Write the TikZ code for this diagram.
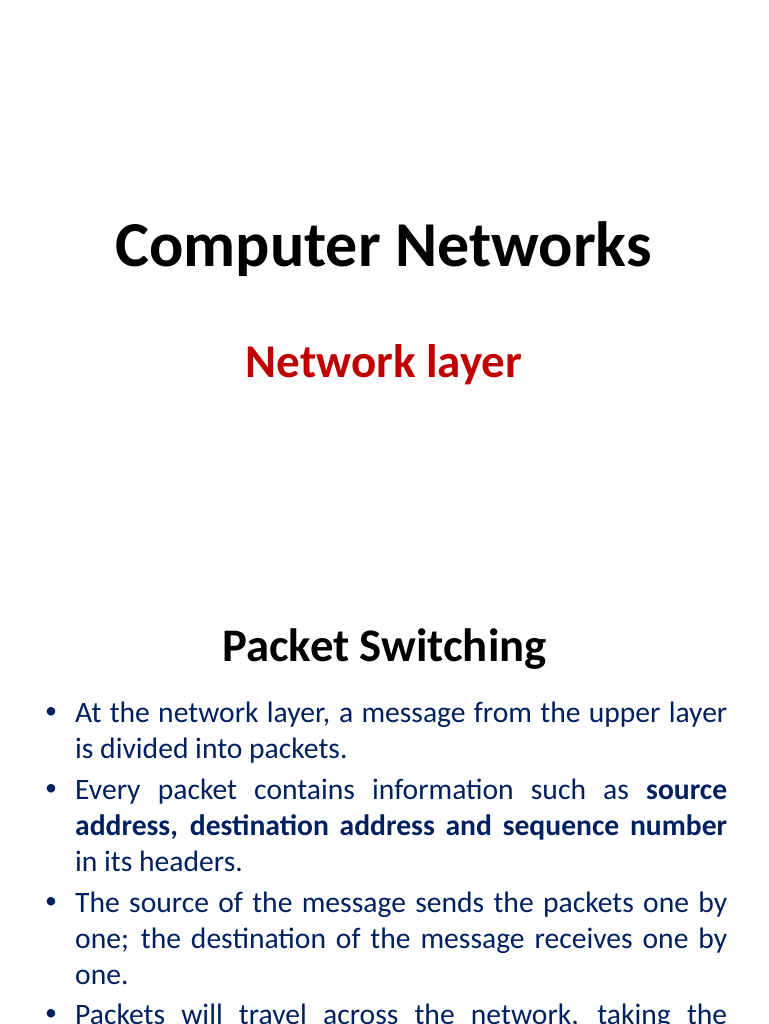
\documentclass[tikz,border=0pt]{standalone}
\usepackage{fontspec}
\setmainfont{Carlito}
\usepackage{tikz}
\definecolor{TitleRed}{RGB}{192,0,0}
\definecolor{BodyBlue}{RGB}{0,32,96}
\tikzset{
  headline/.style={font=\bfseries\fontsize{#1}{#1}\selectfont,color=black,anchor=base},
  bodyline/.style={font=\fontsize{29.6}{36}\selectfont,color=BodyBlue,anchor=base west,inner sep=0pt},
  bulletdot/.style={font=\fontsize{24}{24}\selectfont,color=BodyBlue,anchor=base,inner sep=0pt}
}
% one justified line of the list
\newcommand{\fullline}[1]{\hbox to 652pt{\fontsize{29.6}{36}\selectfont\spaceskip=.2em plus 1fil\relax #1}}
\begin{document}
\begin{tikzpicture}[x=1pt,y=-1pt]
\useasboundingbox (0,0) rectangle (768,1024);
\clip (0,0) rectangle (768,1024);
\node[headline=64] (title) at (383.5,266) {Computer Networks};
\node[headline=47,color=TitleRed] (subtitle) at (384,377) {Network layer};
\node[headline=46.7] (heading) at (384.5,661) {Packet Switching};

\node[bulletdot] (dota) at (51,718.5) {•};
\node[bodyline] (la) at (75,722) {\fullline{At the network layer, a message from the upper layer}};
\node[bodyline] (lb) at (75,758) {is divided into packets.};
\node[bulletdot] (dotb) at (51,795.5) {•};
\node[bodyline] (lc) at (75,799) {\fullline{Every packet contains information such as \textbf{source}}};
\node[bodyline] (ld) at (75,835) {\fullline{\textbf{address, destination address and sequence number}}};
\node[bodyline] (le) at (75,871) {in its headers.};
\node[bulletdot] (dotc) at (51,908.5) {•};
\node[bodyline] (lf) at (75,912) {\fullline{The source of the message sends the packets one by}};
\node[bodyline] (lg) at (75,948) {\fullline{one; the destination of the message receives one by}};
\node[bodyline] (lh) at (75,984) {one.};
\node[bulletdot] (dotd) at (51,1020.5) {•};
\node[bodyline] (li) at (75,1024) {\fullline{Packets will travel across the network, taking the}};
\end{tikzpicture}
\end{document}
